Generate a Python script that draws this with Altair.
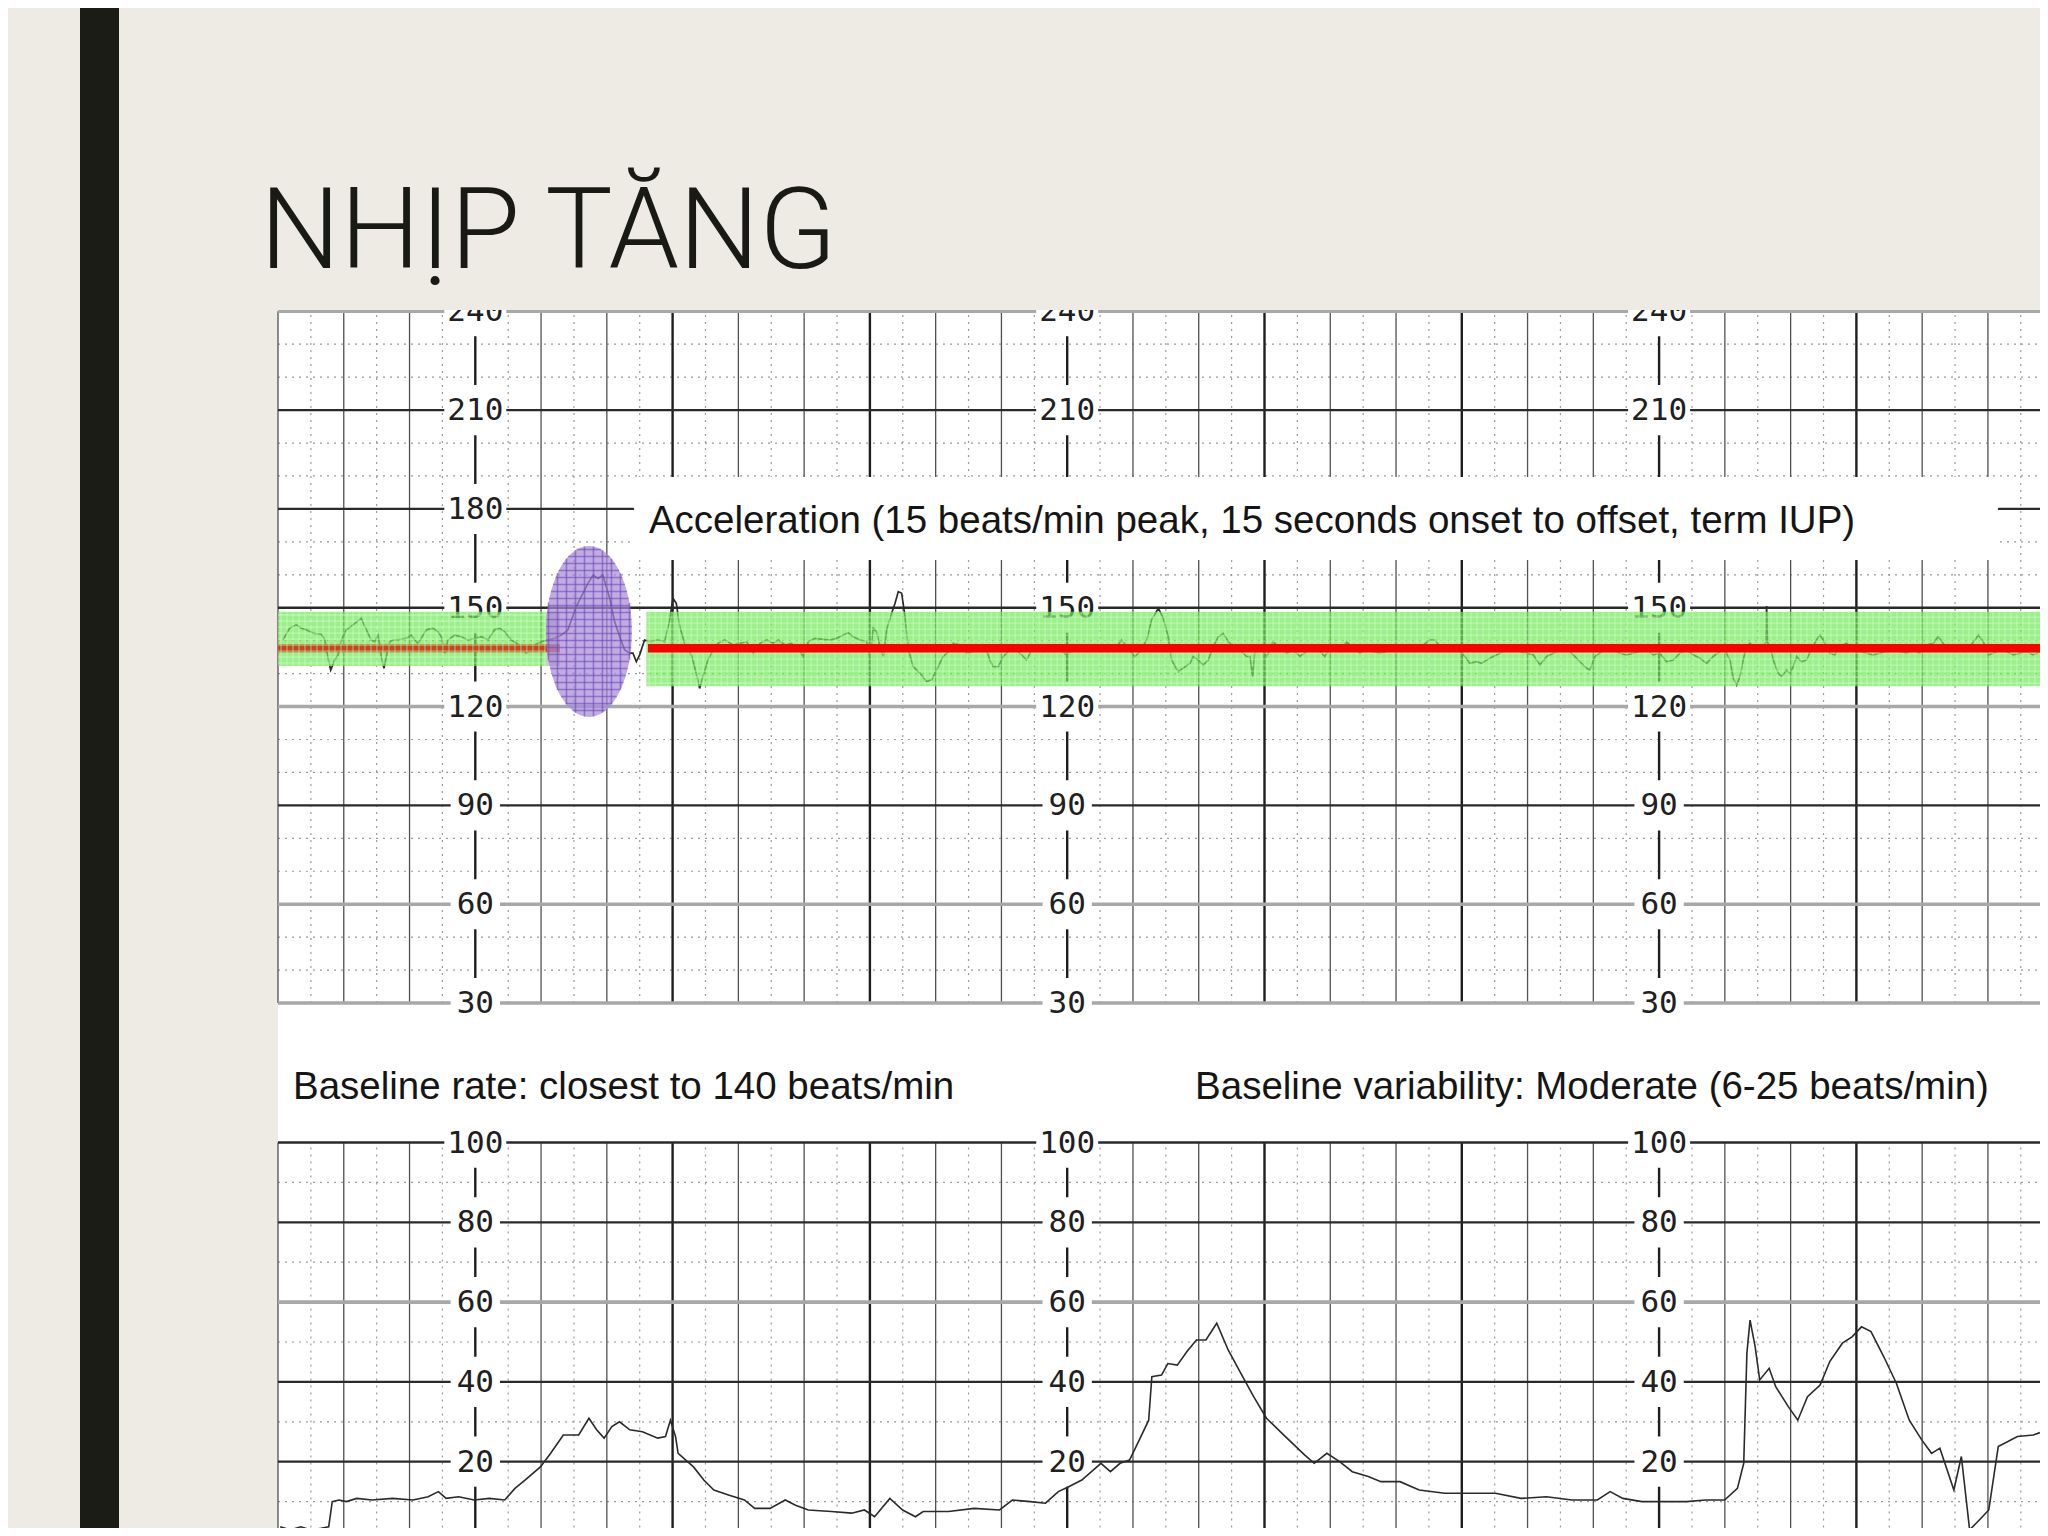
import altair as alt
import numpy as np
import pandas as pd

BEIGE = "#EEEBE5"
BAR = "#1B1C15"
INK = "#151515"

# ---------------- FHR trace (minutes, beats/min) ----------------
fhr_min = [0.025, 0.059, 0.093, 0.118, 0.144, 0.161, 0.186, 0.220, 0.237, 0.253, 0.267, 0.287, 0.304, 0.321,
           0.346, 0.380, 0.422, 0.448, 0.473, 0.490, 0.507, 0.524, 0.537, 0.549, 0.566, 0.583, 0.617, 0.650,
           0.676, 0.693, 0.710, 0.726, 0.752, 0.786, 0.811, 0.828, 0.845, 0.862, 0.895, 0.929, 0.963, 0.997,
           1.031, 1.064, 1.098, 1.124, 1.149, 1.183, 1.208, 1.233, 1.259, 1.276, 1.301, 1.335, 1.368, 1.402,
           1.436, 1.470, 1.487, 1.512, 1.537, 1.571, 1.597, 1.622, 1.647, 1.664, 1.681, 1.706, 1.732, 1.757,
           1.782, 1.799, 1.816, 1.833, 1.858, 1.884, 1.926, 1.960, 1.985, 2.002, 2.019, 2.036, 2.061, 2.095,
           2.120, 2.137, 2.154, 2.179, 2.205, 2.230, 2.264, 2.308, 2.341, 2.375, 2.409, 2.443, 2.477, 2.510,
           2.536, 2.569, 2.603, 2.637, 2.662, 2.688, 2.721, 2.764, 2.798, 2.831, 2.865, 2.890, 2.916, 2.950,
           2.983, 3.000, 3.017, 3.034, 3.051, 3.068, 3.085, 3.110, 3.127, 3.144, 3.161, 3.178, 3.195, 3.220,
           3.254, 3.287, 3.313, 3.338, 3.372, 3.406, 3.423, 3.456, 3.490, 3.524, 3.558, 3.592, 3.608, 3.625,
           3.651, 3.676, 3.701, 3.727, 3.752, 3.777, 3.794, 3.820, 3.853, 3.887, 3.929, 3.963, 3.997, 4.031,
           4.065, 4.098, 4.132, 4.166, 4.208, 4.242, 4.276, 4.301, 4.343, 4.369, 4.403, 4.428, 4.462, 4.487,
           4.512, 4.529, 4.563, 4.597, 4.622, 4.639, 4.664, 4.690, 4.715, 4.740, 4.766, 4.791, 4.816, 4.850,
           4.884, 4.909, 4.926, 4.940, 4.951, 4.977, 5.011, 5.044, 5.078, 5.112, 5.146, 5.180, 5.213, 5.247,
           5.281, 5.306, 5.332, 5.382, 5.416, 5.450, 5.484, 5.517, 5.551, 5.585, 5.619, 5.653, 5.686, 5.720,
           5.754, 5.805, 5.838, 5.864, 5.889, 5.923, 5.957, 5.991, 6.016, 6.041, 6.075, 6.100, 6.126, 6.159,
           6.193, 6.227, 6.261, 6.295, 6.328, 6.362, 6.396, 6.430, 6.464, 6.497, 6.531, 6.565, 6.599, 6.633,
           6.649, 6.675, 6.709, 6.742, 6.768, 6.801, 6.835, 6.869, 6.903, 6.937, 6.970, 7.004, 7.038, 7.072,
           7.105, 7.139, 7.173, 7.207, 7.241, 7.274, 7.308, 7.334, 7.359, 7.376, 7.393, 7.410, 7.426, 7.443,
           7.460, 7.477, 7.511, 7.541, 7.545, 7.549, 7.562, 7.579, 7.604, 7.621, 7.646, 7.663, 7.680, 7.697,
           7.722, 7.747, 7.773, 7.798, 7.815, 7.832, 7.866, 7.891, 7.916, 7.950, 7.984, 8.018, 8.052, 8.085,
           8.119, 8.153, 8.187, 8.221, 8.254, 8.288, 8.322, 8.356, 8.389, 8.415, 8.440, 8.474, 8.508, 8.542,
           8.575, 8.601, 8.618, 8.643, 8.668, 8.694, 8.727, 8.761, 8.795, 8.829, 8.863, 8.896, 8.930]
fhr_bpm = [140.2, 143.8, 144.8, 143.8, 143.3, 142.7, 142.2, 142.0, 140.2, 135.2, 131.1, 134.1, 135.7, 140.2,
           143.3, 144.8, 146.8, 143.3, 140.2, 139.7, 141.7, 135.2, 131.6, 135.2, 139.7, 140.2, 140.4, 140.7,
           141.7, 140.2, 139.2, 140.7, 143.3, 143.8, 142.7, 141.2, 136.2, 140.2, 141.7, 141.2, 140.2, 140.7,
           141.2, 140.2, 143.3, 143.8, 142.7, 140.2, 139.2, 138.2, 136.2, 137.2, 138.7, 139.7, 140.2, 140.7,
           141.7, 143.3, 146.3, 150.3, 153.4, 157.4, 159.9, 158.9, 159.9, 156.4, 152.9, 145.8, 141.2, 137.2,
           136.2, 136.2, 133.6, 135.7, 140.2, 139.7, 140.2, 139.7, 146.3, 152.9, 151.3, 144.3, 139.2, 135.7,
           130.1, 125.5, 129.1, 134.1, 137.2, 139.2, 140.2, 138.7, 139.2, 139.7, 136.2, 139.2, 140.2, 139.2,
           140.2, 138.7, 139.2, 137.7, 135.2, 139.7, 140.7, 140.4, 140.2, 140.7, 141.7, 142.4, 141.2, 140.2,
           139.7, 135.2, 143.8, 142.7, 138.2, 135.2, 143.3, 148.3, 151.3, 154.9, 154.4, 147.3, 137.2, 132.1,
           130.1, 127.6, 128.1, 131.1, 135.2, 137.2, 139.2, 138.7, 136.2, 136.7, 138.7, 137.2, 134.1, 132.1,
           132.1, 135.2, 136.7, 137.2, 136.7, 135.2, 134.1, 137.2, 137.7, 136.7, 137.7, 137.2, 135.7, 137.2,
           137.7, 136.7, 137.2, 137.2, 136.7, 137.7, 140.2, 138.2, 135.2, 136.7, 140.2, 146.3, 149.8, 146.8,
           141.2, 134.1, 130.6, 132.1, 133.1, 135.2, 134.1, 132.6, 134.1, 138.2, 141.2, 142.2, 139.7, 138.2,
           136.7, 135.2, 135.2, 129.1, 136.2, 138.2, 135.2, 139.7, 137.7, 136.2, 137.2, 135.2, 136.7, 137.7,
           136.7, 135.2, 137.7, 136.7, 139.7, 137.7, 136.2, 137.7, 136.7, 136.2, 136.7, 137.7, 138.2, 137.7,
           138.2, 138.7, 140.2, 140.2, 138.2, 137.7, 137.2, 136.7, 135.2, 133.1, 133.6, 133.1, 134.1, 135.2,
           136.2, 137.2, 137.7, 136.7, 136.2, 135.7, 132.6, 135.2, 136.2, 137.2, 137.7, 135.7, 133.6, 131.6,
           131.1, 135.2, 136.7, 137.2, 137.2, 136.2, 135.7, 136.2, 136.7, 137.2, 135.7, 136.2, 133.6, 134.1,
           136.2, 137.2, 135.7, 134.7, 133.1, 135.2, 136.7, 137.2, 134.1, 128.6, 126.5, 129.1, 134.1, 138.2,
           139.2, 138.2, 137.2, 139.5, 150.5, 139.5, 138.2, 134.1, 130.1, 129.1, 131.1, 130.1, 132.1, 135.2,
           133.6, 134.1, 137.7, 140.2, 141.7, 140.2, 136.2, 135.7, 138.2, 139.2, 137.7, 136.7, 136.2, 135.7,
           136.2, 136.7, 137.2, 136.7, 136.2, 137.2, 136.2, 138.7, 139.2, 141.2, 139.2, 136.7, 137.2, 136.7,
           138.2, 140.2, 141.7, 139.7, 135.7, 136.2, 137.2, 136.7, 135.7, 136.2, 136.7, 135.7, 136.7]

# ---------------- uterine activity trace (minutes, units) ----------------
uc_min = [0.011, 0.063, 0.115, 0.166, 0.218, 0.257, 0.275, 0.309, 0.347, 0.399, 0.477, 0.580, 0.684, 0.761,
          0.813, 0.852, 0.916, 0.994, 1.071, 1.149, 1.201, 1.252, 1.330, 1.382, 1.446, 1.524, 1.576, 1.615,
          1.653, 1.692, 1.731, 1.783, 1.847, 1.925, 1.964, 1.989, 2.015, 2.028, 2.106, 2.158, 2.209, 2.287,
          2.364, 2.416, 2.494, 2.571, 2.623, 2.688, 2.804, 2.908, 2.972, 3.024, 3.101, 3.166, 3.231, 3.270,
          3.399, 3.528, 3.657, 3.722, 3.813, 3.890, 3.955, 4.010, 4.074, 4.171, 4.219, 4.268, 4.316, 4.365,
          4.413, 4.429, 4.478, 4.510, 4.558, 4.607, 4.655, 4.703, 4.758, 4.816, 4.881, 4.945, 5.010, 5.106,
          5.203, 5.252, 5.316, 5.381, 5.445, 5.526, 5.590, 5.687, 5.784, 5.913, 6.042, 6.171, 6.300, 6.429,
          6.558, 6.687, 6.752, 6.816, 6.913, 7.010, 7.139, 7.236, 7.332, 7.397, 7.429, 7.445, 7.461, 7.487,
          7.510, 7.558, 7.591, 7.655, 7.703, 7.752, 7.816, 7.865, 7.929, 7.978, 8.026, 8.074, 8.139, 8.203,
          8.268, 8.332, 8.381, 8.423, 8.494, 8.532, 8.574, 8.623, 8.671, 8.719, 8.816, 8.897, 8.930]
uc_val = [3.7, 2.9, 3.7, 2.9, 3.3, 3.7, 10.0, 10.4, 10.0, 10.8, 10.4, 10.8, 10.4, 11.2,
          12.5, 10.8, 11.2, 10.4, 10.8, 10.4, 13.3, 15.4, 18.7, 22.1, 26.7, 26.7, 30.9, 28.0,
          25.9, 28.8, 30.0, 28.0, 27.5, 25.9, 26.3, 30.4, 26.3, 22.1, 18.7, 15.4, 12.9, 11.6,
          10.4, 8.3, 8.3, 10.4, 9.1, 7.9, 7.5, 7.1, 7.9, 6.2, 10.8, 7.9, 6.2, 7.5,
          7.5, 8.3, 7.9, 10.4, 10.0, 9.6, 12.5, 13.8, 15.4, 19.6, 17.5, 19.6, 20.4, 25.4,
          30.4, 41.3, 41.7, 44.6, 44.2, 47.6, 50.5, 50.5, 54.7, 48.0, 42.1, 36.3, 30.9, 26.3,
          21.7, 19.6, 22.1, 20.0, 17.5, 16.3, 15.0, 15.0, 12.9, 12.1, 12.1, 12.1, 10.8, 11.2,
          10.4, 10.4, 12.5, 10.8, 10.0, 10.0, 10.0, 10.4, 10.4, 13.3, 19.6, 47.2, 55.5, 48.8,
          40.5, 43.4, 38.8, 33.8, 30.4, 36.3, 39.2, 45.1, 49.7, 51.3, 53.8, 52.6, 46.3, 39.6,
          30.4, 25.4, 22.1, 23.4, 12.9, 21.3, 2.9, 5.4, 7.9, 23.8, 26.3, 26.7, 27.3]

# ---------------- scale labels ----------------
fhr_ticks = [240, 210, 180, 150, 120, 90, 60, 30]
fhr_tone = ["gray", "dark", "dark", "dark", "gray", "dark", "gray", "gray"]
uc_ticks = [100, 80, 60, 40, 20, 0]
uc_tone = ["dark", "dark", "gray", "dark", "dark", "dark"]
uc_labels = [100, 80, 60, 40, 20]
label_minutes = [1, 4, 7]
paper_end = 8.93

# ---------------- annotation values ----------------
baseline_bpm = 137.7
red_left_span = [0.0, 1.429]
red_right_span = [1.875, 8.9306]
band_left = [0.0, 1.358, 132.3, 148.8]
band_right = [1.867, 8.9306, 126.2, 148.8]
accel_center = [1.576, 142.8]
accel_rx = 0.218
accel_ry = 25.96
accel_box = [1.804, 8.718, 164.5, 189.7]
accel_text = "Acceleration (15 beats/min peak, 15 seconds onset to offset, term IUP)"
accel_text_pos = [1.880, 172.8]
rate_text = "Baseline rate: closest to 140 beats/min"
var_text = "Baseline variability: Moderate (6-25 beats/min)"
rate_text_pos = [0.076, 110.8]
var_text_pos = [4.648, 110.8]
title_text = "NHỊP TĂNG"

X_DOM = [-1.3685, 8.9306]
FHR_DOM = [-129.38, 332.07]
UC_DOM = [3.383, 384.34]

SANS = "Liberation Sans"
MONO = "DejaVu Sans Mono"


def X(f):
    return alt.X(f, type="quantitative", scale=alt.Scale(domain=X_DOM, nice=False, zero=False), axis=None)


def Y(f, dom):
    return alt.Y(f, type="quantitative", scale=alt.Scale(domain=dom, nice=False, zero=False), axis=None)


def in_accel_box(m, v):
    return accel_box[0] <= m <= accel_box[1] and accel_box[2] <= v <= accel_box[3]


one = pd.DataFrame({"k": [0]})
layers = []

# white paper
layers.append(alt.Chart(one).mark_rect(color="white").encode(
    x=alt.value(270), x2=alt.value(2032), y=alt.value(302), y2=alt.value(1520)))

# grids for both panels
sixths = [(2 * k + 1) / 6 for k in range(27) if (2 * k + 1) / 6 < paper_end]
thirds = [k / 3 for k in range(27) if k % 3 != 0 or k == 0]
wholes = [1, 2, 3, 4, 5, 6, 7, 8]
for dom, lo, hi, ticks, tones, labels, minor in [
        (FHR_DOM, 30, 240, fhr_ticks, fhr_tone, fhr_ticks, [v for v in range(40, 240, 10) if v % 30 != 0]),
        (UC_DOM, 0, 100, uc_ticks, uc_tone, uc_labels, [10, 30, 50, 70, 90])]:
    dv = pd.DataFrame({"m": sixths, "y1": lo, "y2": hi})
    layers.append(alt.Chart(dv).mark_rule(color="#9a9a9a", strokeWidth=1.2, strokeDash=[2, 5], clip=True).encode(
        x=X("m"), y=Y("y1", dom), y2=alt.Y2("y2")))
    dh = pd.DataFrame({"v": minor, "x1": 0.0, "x2": X_DOM[1]})
    layers.append(alt.Chart(dh).mark_rule(color="#9a9a9a", strokeWidth=1.2, strokeDash=[2, 5], clip=True).encode(
        y=Y("v", dom), x=X("x1"), x2=alt.X2("x2")))
    dt = pd.DataFrame({"m": thirds, "y1": lo, "y2": hi})
    layers.append(alt.Chart(dt).mark_rule(color="#505050", strokeWidth=1.3, clip=True).encode(
        x=X("m"), y=Y("y1", dom), y2=alt.Y2("y2")))
    dw = pd.DataFrame({"m": wholes, "y1": lo, "y2": hi})
    layers.append(alt.Chart(dw).mark_rule(color="#1e1e1e", strokeWidth=2.4, clip=True).encode(
        x=X("m"), y=Y("y1", dom), y2=alt.Y2("y2")))
    for tone, col, wd in [("dark", "#2a2a2a", 2.3), ("gray", "#a8a8a8", 3.6)]:
        vals = [v for v, t in zip(ticks, tones) if t == tone]
        dm = pd.DataFrame({"v": vals, "x1": 0.0, "x2": X_DOM[1]})
        layers.append(alt.Chart(dm).mark_rule(color=col, strokeWidth=wd, clip=True).encode(
            y=Y("v", dom), x=X("x1"), x2=alt.X2("x2")))
    # label boxes and labels
    hh = 7.6 if dom is FHR_DOM else 6.3
    rows = []
    for m in label_minutes:
        for v in labels:
            if dom is FHR_DOM and in_accel_box(m, v):
                continue
            hw = {1: 0.085, 2: 0.125, 3: 0.157}[len(str(v))]
            rows.append({"m": m, "v": v, "t": str(v), "x1": m - hw, "x2": m + hw, "y1": v - hh, "y2": v + hh})
    dl = pd.DataFrame(rows)
    layers.append(alt.Chart(dl).mark_rect(color="white", clip=True).encode(
        x=X("x1"), x2=alt.X2("x2"), y=Y("y1", dom), y2=alt.Y2("y2")))
    layers.append(alt.Chart(dl).mark_text(font=MONO, fontSize=31, color="#202020", align="center",
                                          baseline="middle", dy=1, clip=True).encode(
        x=X("m"), y=Y("v", dom), text="t:N"))

# traces
fhr = pd.DataFrame({"m": fhr_min, "v": fhr_bpm})
layers.append(alt.Chart(fhr).mark_line(color="#2a2a2a", strokeWidth=1.7).encode(x=X("m"), y=Y("v", FHR_DOM)))
uc = pd.DataFrame({"m": uc_min, "v": uc_val})
layers.append(alt.Chart(uc).mark_line(color="#2a2a2a", strokeWidth=1.6, clip=True).encode(x=X("m"), y=Y("v", UC_DOM)))

# green variability bands
bands = pd.DataFrame([band_left, band_right], columns=["m0", "m1", "lo", "hi"])
layers.append(alt.Chart(bands).mark_rect(color="#74e85a", opacity=0.7).encode(
    x=X("m0"), x2=alt.X2("m1"), y=Y("lo", FHR_DOM), y2=alt.Y2("hi")))
strip = pd.DataFrame({"m0": [band_left[1]], "m1": [red_left_span[1]], "lo": [band_left[2]], "hi": [band_left[3]]})
layers.append(alt.Chart(strip).mark_rect(color="#9a9a9a", opacity=0.5).encode(
    x=X("m0"), x2=alt.X2("m1"), y=Y("lo", FHR_DOM), y2=alt.Y2("hi")))
# left baseline line (under the texture)
rl = pd.DataFrame({"x1": [red_left_span[0]], "x2": [red_left_span[1]], "v": [baseline_bpm]})
layers.append(alt.Chart(rl).mark_rule(color="#c24a18", strokeWidth=8).encode(
    y=Y("v", FHR_DOM), x=X("x1"), x2=alt.X2("x2")))
# texture of bands
tex_v, tex_h = [], []
for b in [band_left, band_right]:
    for m in np.arange(b[0] + 0.015, b[1], 0.0304):
        tex_v.append({"m": m, "lo": b[2], "hi": b[3]})
    for v in np.arange(b[2] + 0.9, b[3], 1.82):
        tex_h.append({"v": v, "x1": b[0], "x2": b[1]})
layers.append(alt.Chart(pd.DataFrame(tex_v)).mark_rule(color="#d8ffd0", opacity=0.35, strokeWidth=1.6).encode(
    x=X("m"), y=Y("lo", FHR_DOM), y2=alt.Y2("hi")))
layers.append(alt.Chart(pd.DataFrame(tex_h)).mark_rule(color="#d8ffd0", opacity=0.35, strokeWidth=1.6).encode(
    y=Y("v", FHR_DOM), x=X("x1"), x2=alt.X2("x2")))

# acceleration ellipse
ratio = 43.0 / 85.5
ell_path = f"M {-ratio} 0 A {ratio} 1 0 1 0 {ratio} 0 A {ratio} 1 0 1 0 {-ratio} 0 Z"
ell = pd.DataFrame({"m": [accel_center[0]], "v": [accel_center[1]]})
layers.append(alt.Chart(ell).mark_point(shape=ell_path, size=171 * 171, filled=True, fill="#a88ad8",
                                        opacity=0.72, strokeWidth=0).encode(x=X("m"), y=Y("v", FHR_DOM)))
ch_h, ch_v = [], []
for dy in np.arange(-24, 25, 2.125):
    hw = accel_rx * np.sqrt(max(0.0, 1 - (dy / accel_ry) ** 2))
    ch_h.append({"v": accel_center[1] + dy, "x1": accel_center[0] - hw, "x2": accel_center[0] + hw})
for dx in np.arange(-0.205, 0.206, 0.0456):
    hh2 = accel_ry * np.sqrt(max(0.0, 1 - (dx / accel_rx) ** 2))
    ch_v.append({"m": accel_center[0] + dx, "lo": accel_center[1] - hh2, "hi": accel_center[1] + hh2})
layers.append(alt.Chart(pd.DataFrame(ch_h)).mark_rule(color="#6a44b8", opacity=0.55, strokeWidth=1.6).encode(
    y=Y("v", FHR_DOM), x=X("x1"), x2=alt.X2("x2")))
layers.append(alt.Chart(pd.DataFrame(ch_v)).mark_rule(color="#6a44b8", opacity=0.55, strokeWidth=1.6).encode(
    x=X("m"), y=Y("lo", FHR_DOM), y2=alt.Y2("hi")))

# right baseline line
rr = pd.DataFrame({"x1": [red_right_span[0]], "x2": [red_right_span[1]], "v": [baseline_bpm]})
layers.append(alt.Chart(rr).mark_rule(color="#ff0000", strokeWidth=8.7).encode(
    y=Y("v", FHR_DOM), x=X("x1"), x2=alt.X2("x2")))

# acceleration annotation
ab = pd.DataFrame({"x1": [accel_box[0]], "x2": [accel_box[1]], "y1": [accel_box[2]], "y2": [accel_box[3]]})
layers.append(alt.Chart(ab).mark_rect(color="white").encode(
    x=X("x1"), x2=alt.X2("x2"), y=Y("y1", FHR_DOM), y2=alt.Y2("y2")))
at = pd.DataFrame({"m": [accel_text_pos[0]], "v": [accel_text_pos[1]], "t": [accel_text]})
layers.append(alt.Chart(at).mark_text(font=SANS, fontSize=38.5, color=INK, align="left",
                                      baseline="alphabetic").encode(x=X("m"), y=Y("v", FHR_DOM), text="t:N"))

# baseline texts
bt = pd.DataFrame({"m": [rate_text_pos[0], var_text_pos[0]], "v": [rate_text_pos[1], var_text_pos[1]],
                   "t": [rate_text, var_text]})
layers.append(alt.Chart(bt).mark_text(font=SANS, fontSize=38.5, color=INK, align="left",
                                      baseline="alphabetic").encode(x=X("m"), y=Y("v", UC_DOM), text="t:N"))

# slide decorations
layers.append(alt.Chart(one).mark_rect(color=BEIGE).encode(
    x=alt.value(262), x2=alt.value(2032), y=alt.value(0), y2=alt.value(302)))
layers.append(alt.Chart(one).mark_rect(color=BAR).encode(
    x=alt.value(72), x2=alt.value(111), y=alt.value(0), y2=alt.value(1520)))
tt = pd.DataFrame({"t": [title_text]})
layers.append(alt.Chart(tt).mark_text(font="Roboto", fontSize=113, fontWeight=300, color="#1a1a14", align="left",
                                      baseline="alphabetic").encode(
    x=alt.value(252), y=alt.value(260), text="t:N"))

chart = alt.layer(*layers).resolve_scale(y="independent").properties(
    width=2032, height=1520, padding=0, autosize=alt.AutoSizeParams(type="none"), background=BEIGE
).configure_view(strokeWidth=0)

chart.save("out.html", embed_options={"renderer": "svg", "actions": False})
